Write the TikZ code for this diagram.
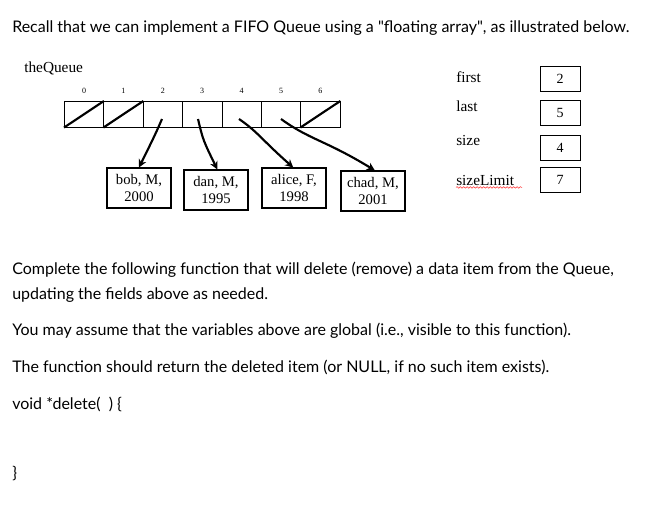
\documentclass[tikz,border=0pt]{standalone}
\usepackage{fontspec}
\setmainfont{Lato}
\newfontfamily\tnr{Liberation Serif}
\usetikzlibrary{arrows.meta,decorations.pathmorphing}
\begin{document}
\begin{tikzpicture}[x=0.75pt,y=-0.75pt,
  txt/.style={anchor=west,inner sep=0pt,font=\fontsize{12}{14}\selectfont},
  ser/.style={inner sep=0pt,font=\tnr\fontsize{11.5}{13}\selectfont},
  idx/.style={inner sep=0pt,font=\tnr\fontsize{6}{6}\selectfont},
  rec/.style={draw,thick,minimum width=48pt,minimum height=30pt,align=center,inner sep=1pt,font=\tnr\fontsize{11}{13}\selectfont},
  val/.style={draw,minimum width=30pt,minimum height=18.5pt,inner sep=0pt,font=\tnr\fontsize{10.5}{11}\selectfont},
  arr/.style={line width=1.6pt,-{Stealth[length=6pt,width=6pt]}},
  slash/.style={line width=1.6pt}]
\useasboundingbox (0,0) rectangle (650,504);
\fill[white] (0,0) rectangle (650,504);
\node[txt] (t1) at (12,28) {Recall that we can implement a FIFO Queue using a \textquotedbl floating array\textquotedbl, as illustrated below.};
\node[ser,anchor=west] (tq) at (24,68) {theQueue};
% array
\foreach \i in {0,...,6}{
  \coordinate (c\i) at ({64+\i*39.4},101);
  \node[draw,minimum width=29.55pt,minimum height=19.5pt,inner sep=0pt,anchor=north west] (cell\i) at (c\i) {};
  \node[idx] (ix\i) at ({84+\i*39.4},91) {\i};
}
\draw[slash] (cell0.south west) -- (cell0.north east);
\draw[slash] (cell1.south west) -- (cell1.north east);
\draw[slash] (cell6.south west) -- (cell6.north east);
% records
\node[rec] (r1) at (139,188) {bob, M,\\2000};
\node[rec] (r2) at (216,190) {dan, M,\\1995};
\node[rec] (r3) at (294,188) {alice, F,\\1998};
\node[rec] (r4) at (373,191) {chad, M,\\2001};
\coordinate (p2) at (162,119);
\coordinate (p3) at (198,119);
\coordinate (p4) at (239,119);
\coordinate (p5) at (281,119);
\draw[arr] (p2) .. controls (155,135) .. (r1.north);
\draw[arr] (p3) .. controls (203,140) .. ([xshift=1pt]r2.north);
\draw[arr] (p4) .. controls (258,132) and (262,140) .. ([xshift=-25pt]r3.north east);
\draw[arr] (p5) .. controls (310,140) and (325,140) .. ([xshift=-23pt]r4.north east);
% fields
\node[ser,anchor=west] (f1) at (456,77) {first};
\node[ser,anchor=west] (f2) at (456,106) {last};
\node[ser,anchor=west] (f3) at (456,140) {size};
\node[ser,anchor=west] (f4) at (456,180) {sizeLimit};
\draw[red!80,decorate,decoration={snake,amplitude=0.6pt,segment length=2.5pt}] (f4.south west)++(0,2) -- ++(66,0);
\node[val] (v1) at (560,79) {2};
\node[val] (v2) at (560,113) {5};
\node[val] (v3) at (560,148) {4};
\node[val] (v4) at (560,180) {7};
% text
\node[txt] (t2) at (12,270) {Complete the following function that will delete (remove) a data item from the Queue,};
\node[txt] (t3) at (12,295) {updating the fields above as needed.};
\node[txt] (t4) at (12,331) {You may assume that the variables above are global (i.e., visible to this function).};
\node[txt] (t5) at (12,367) {The function should return the deleted item (or NULL, if no such item exists).};
\node[txt] (t6) at (12,404) {void *delete(\ \ ) \{};
\node[txt] (t7) at (12,474) {\}};
\end{tikzpicture}
\end{document}
